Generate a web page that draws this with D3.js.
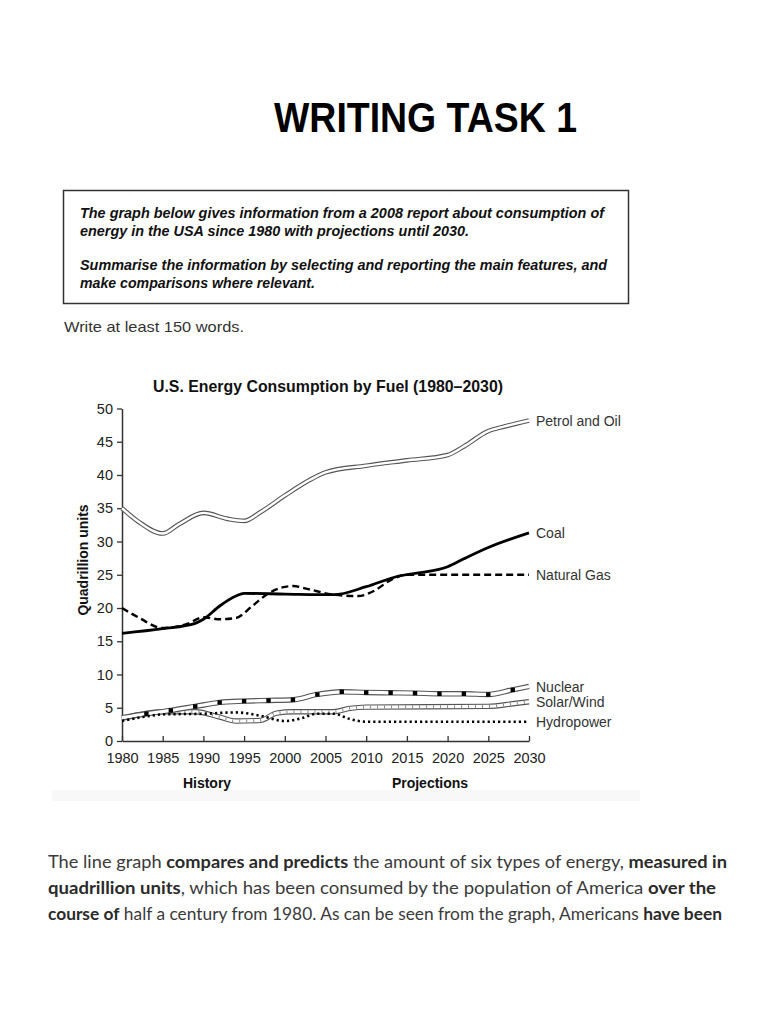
<!DOCTYPE html>
<html>
<head>
<meta charset="utf-8">
<script src="https://cdn.jsdelivr.net/npm/d3@7"></script>
<style>
    body { margin: 0; background: #fff; }
    svg { display: block; }
</style>
</head>
<body>
<svg id="page"></svg>
<script>
// values, quadrillion units, [year, value]
var petrol = [[1980, 35.0], [1982, 33.0], [1985, 31.2], [1987, 32.6], [1990, 34.3], [1993, 33.4],
    [1995, 33.1], [1997, 34.4], [2000, 36.9], [2003, 39.2], [2005, 40.4], [2010, 41.4],
    [2015, 42.2], [2020, 43.0], [2022, 44.3], [2025, 46.6], [2027, 47.3], [2030, 48.2]];
var coal = [[1980, 16.2], [1985, 16.9], [1989, 17.7], [1990, 18.3], [1992, 20.3], [1994, 21.8],
    [1995, 22.2], [2000, 22.1], [2006, 22.0], [2010, 23.2], [2014, 24.8], [2016, 25.2],
    [2020, 26.2], [2022, 27.4], [2025, 29.1], [2030, 31.3]];
var gas = [[1980, 20.0], [1982, 18.6], [1985, 17.0], [1988, 17.6], [1990, 18.6], [1992, 18.3],
    [1994, 18.5], [1996, 20.3], [1998, 22.2], [2001, 23.3], [2003, 22.8], [2006, 22.0],
    [2009, 21.8], [2011, 22.6], [2013, 24.2], [2015, 25.0], [2020, 25.0], [2030, 25.0]];
var nuclear = [[1980, 3.5], [1983, 4.1], [1986, 4.6], [1989, 5.2], [1992, 5.8], [1995, 6.0],
    [1998, 6.1], [2001, 6.2], [2004, 7.0], [2007, 7.4], [2010, 7.3], [2013, 7.25], [2016, 7.2],
    [2019, 7.1], [2022, 7.1], [2025, 7.0], [2028, 7.7], [2030, 8.2]];
var solar = [[1980, 3.4], [1985, 4.4], [1989, 4.4], [1992, 3.6], [1994, 3.0], [1997, 3.1],
    [1999, 4.2], [2001, 4.4], [2006, 4.4], [2008, 4.9], [2010, 5.1], [2025, 5.2], [2028, 5.6],
    [2030, 5.9]];
var hydro = [[1980, 3.0], [1983, 3.7], [1985, 4.0], [1990, 4.1], [1994, 4.3], [1997, 3.8],
    [2000, 3.0], [2002, 3.4], [2004, 4.1], [2006, 4.1], [2008, 3.3], [2010, 2.9], [2030, 2.9]];

var seriesNames = ["Petrol and Oil", "Coal", "Natural Gas", "Nuclear", "Solar/Wind", "Hydropower"];
var xTicks = [1980, 1985, 1990, 1995, 2000, 2005, 2010, 2015, 2020, 2025, 2030];
var yTicks = [0, 5, 10, 15, 20, 25, 30, 35, 40, 45, 50];

var boxLines = [
    "The graph below gives information from a 2008 report about consumption of",
    "energy in the USA since 1980 with projections until 2030.",
    "Summarise the information by selecting and reporting the main features, and",
    "make comparisons where relevant."
];
// paragraph, bold runs flagged
var paraLines = [
    [["The line graph ", 0], ["compares and predicts", 1], [" the amount of six types of energy, ", 0], ["measured in", 1]],
    [["quadrillion units", 1], [", which has been consumed by the population of America ", 0], ["over the", 1]],
    [["course of", 1], [" half a century from 1980. As can be seen from the graph, Americans ", 0], ["have been", 1]]
];

var width = 768,
    height = 1024;
var arial = "'Liberation Sans', Arial, sans-serif";

var svg = d3.select("#page").attr("width", width).attr("height", height);
svg.append("rect").attr("width", width).attr("height", height).attr("fill", "#fff");

// heading
svg.append("text")
    .attr("x", 274).attr("y", 132)
    .attr("textLength", 303).attr("lengthAdjust", "spacingAndGlyphs")
    .style("font-family", arial).style("font-weight", "bold").style("font-size", "42px")
    .attr("fill", "#000")
    .text("WRITING TASK 1");

// task box
svg.append("rect")
    .attr("x", 63.5).attr("y", 190.5).attr("width", 565).attr("height", 113)
    .attr("fill", "none").attr("stroke", "#333").attr("stroke-width", 1.5);
var boxY = [218, 236, 270, 288];
var boxW = [524, 389, 527, 235];
boxLines.forEach(function(t, i) {
    svg.append("text")
        .attr("x", 80).attr("y", boxY[i])
        .attr("textLength", boxW[i]).attr("lengthAdjust", "spacingAndGlyphs")
        .style("font-family", arial).style("font-weight", "bold").style("font-style", "italic")
        .style("font-size", "14.5px").attr("fill", "#111")
        .text(t);
});
svg.append("text")
    .attr("x", 64).attr("y", 332)
    .attr("textLength", 180).attr("lengthAdjust", "spacingAndGlyphs")
    .style("font-family", arial).style("font-size", "14.5px").attr("fill", "#333")
    .text("Write at least 150 words.");

// chart picture bottom band
svg.append("rect").attr("x", 52).attr("y", 790).attr("width", 588).attr("height", 11).attr("fill", "#f8f8f8");

var x = d3.scaleLinear().domain([1980, 2030]).range([122, 529]);
var y = d3.scaleLinear().domain([0, 50]).range([741, 408.5]);

var chart = svg.append("g");

chart.append("text")
    .attr("x", 328).attr("y", 392).attr("text-anchor", "middle")
    .attr("textLength", 350).attr("lengthAdjust", "spacingAndGlyphs")
    .style("font-family", arial).style("font-weight", "bold").style("font-size", "17px")
    .attr("fill", "#111")
    .text("U.S. Energy Consumption by Fuel (1980\u20132030)");

var yAxis = chart.append("g")
    .attr("transform", "translate(122,0)")
    .call(d3.axisLeft(y).tickValues(yTicks).tickSize(5).tickSizeOuter(0).tickPadding(4));
var xAxis = chart.append("g")
    .attr("transform", "translate(0,741)")
    .call(d3.axisBottom(x).tickValues(xTicks).tickSize(-5).tickSizeOuter(0).tickPadding(12).tickFormat(d3.format("d")));
[xAxis, yAxis].forEach(function(a) {
    a.select(".domain").attr("stroke", "#333").attr("stroke-width", 1.5);
    a.selectAll(".tick line").attr("stroke", "#333").attr("stroke-width", 1.3);
    a.selectAll(".tick text").style("font-family", arial).style("font-size", "14.5px").attr("fill", "#222");
});

chart.append("text")
    .attr("transform", "translate(88,560) rotate(-90)")
    .attr("text-anchor", "middle")
    .style("font-family", arial).style("font-weight", "bold").style("font-size", "14px").attr("fill", "#111")
    .text("Quadrillion units");
chart.append("text").attr("x", 207).attr("y", 788).attr("text-anchor", "middle")
    .style("font-family", arial).style("font-weight", "bold").style("font-size", "14px").attr("fill", "#111")
    .text("History");
chart.append("text").attr("x", 430).attr("y", 788).attr("text-anchor", "middle")
    .style("font-family", arial).style("font-weight", "bold").style("font-size", "14px").attr("fill", "#111")
    .text("Projections");

var line = d3.line()
    .x(function(d) { return x(d[0]); })
    .y(function(d) { return y(d[1]); })
    .curve(d3.curveMonotoneX);

function drawPath(data, color, w, dash) {
    return chart.append("path").datum(data)
        .attr("d", line)
        .attr("fill", "none")
        .attr("stroke", color)
        .attr("stroke-width", w)
        .attr("stroke-dasharray", dash || null);
}

// double (outlined) lines
function doubleLine(data, outer, inner) {
    drawPath(data, "#555", outer);
    drawPath(data, "#fff", inner);
}

doubleLine(petrol, 4.6, 2.4);
doubleLine(solar, 5.4, 3.2);
drawPath(solar, "#888", 3, "1,6");
doubleLine(nuclear, 5.4, 3.2);
chart.selectAll(".nuc-mark")
    .data(nuclear.slice(1, -1)).enter()
    .append("rect")
    .attr("class", "nuc-mark")
    .attr("x", function(d) { return x(d[0]) - 2.2; })
    .attr("y", function(d) { return y(d[1]) - 2.2; })
    .attr("width", 4.4).attr("height", 4.4)
    .attr("fill", "#000");
drawPath(hydro, "#000", 2.6, "2.2,3");
drawPath(gas, "#000", 2.4, "7,4");
drawPath(coal, "#000", 2.8);

// labels at the line ends
var allSeries = [petrol, coal, gas, nuclear, solar, hydro];
allSeries.forEach(function(s, i) {
    var last = s[s.length - 1];
    chart.append("text")
        .attr("x", x(last[0]) + 7).attr("y", y(last[1]))
        .attr("dy", "0.36em")
        .style("font-family", arial).style("font-size", "14px").attr("fill", "#333")
        .text(seriesNames[i]);
});

// paragraph under the picture
var paraY = [868, 894, 920];
var paraW = [679, 668, 674];
paraLines.forEach(function(runs, i) {
    var t = svg.append("text")
        .attr("x", 48).attr("y", paraY[i])
        .attr("textLength", paraW[i]).attr("lengthAdjust", "spacingAndGlyphs")
        .style("font-family", "Lato, sans-serif").style("font-size", "17.6px").attr("fill", "#3a3a3a");
    runs.forEach(function(r) {
        t.append("tspan")
            .style("font-weight", r[1] ? "bold" : "normal")
            .attr("fill", r[1] ? "#2a2a2a" : "#3a3a3a")
            .text(r[0]);
    });
});
</script>
</body>
</html>
